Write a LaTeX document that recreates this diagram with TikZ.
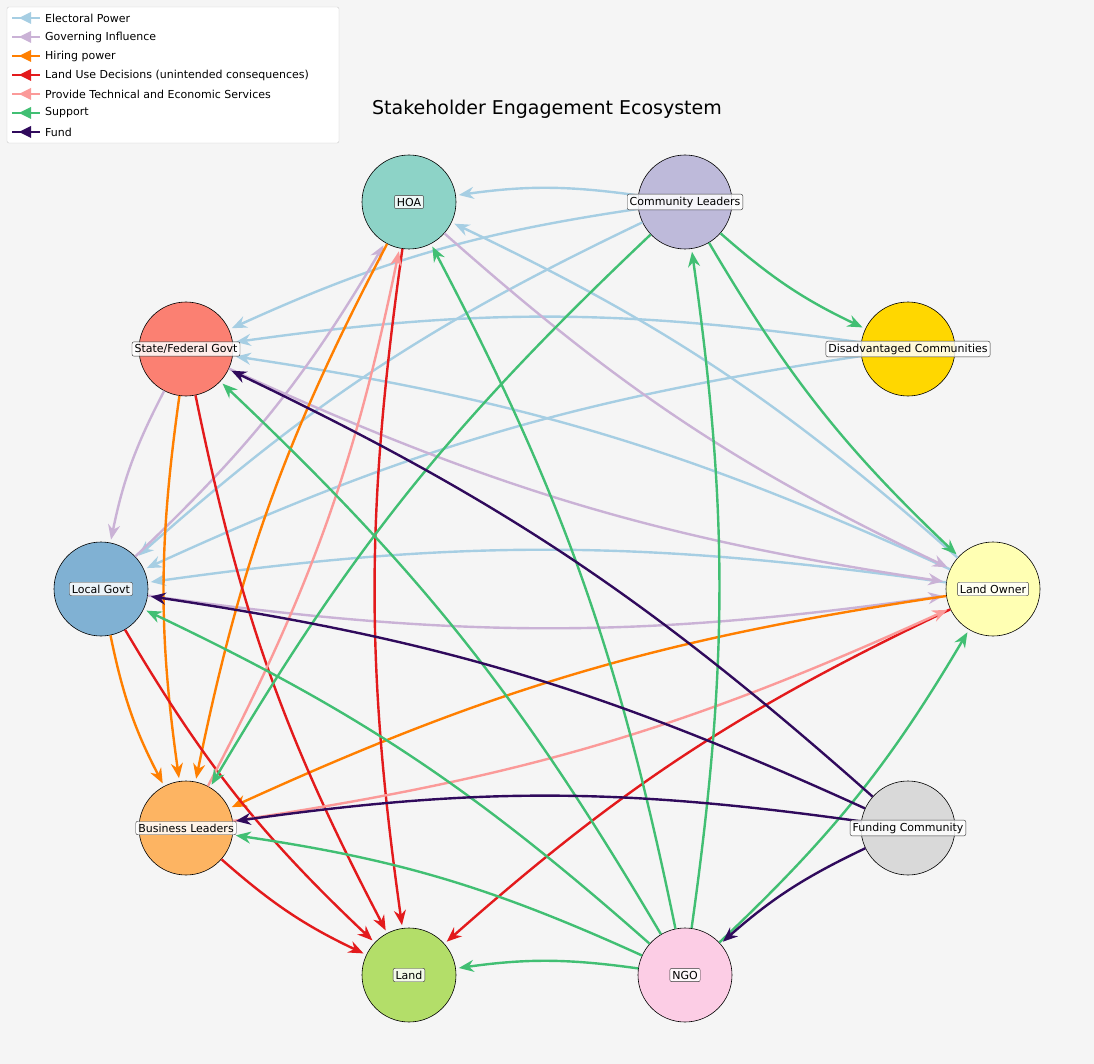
\documentclass[tikz,border=0pt]{standalone}
\usepackage{fontspec}
\setmainfont{DejaVu Sans}
\usetikzlibrary{arrows.meta}
\definecolor{bg}{HTML}{F5F5F5}
\definecolor{el}{HTML}{A6CEE3}
\definecolor{gv}{HTML}{CAB2D6}
\definecolor{hi}{HTML}{FF7F00}
\definecolor{lu}{HTML}{E31A1C}
\definecolor{te}{HTML}{FB9A99}
\definecolor{su}{HTML}{41BF73}
\definecolor{fu}{HTML}{300A5C}
\definecolor{c1}{HTML}{8DD3C7}
\definecolor{c2}{HTML}{BEBADA}
\definecolor{c3}{HTML}{FB8072}
\definecolor{c4}{HTML}{FFD700}
\definecolor{c5}{HTML}{80B1D3}
\definecolor{c6}{HTML}{FFFFB3}
\definecolor{c7}{HTML}{FDB462}
\definecolor{c8}{HTML}{D9D9D9}
\definecolor{c9}{HTML}{B3DE69}
\definecolor{c10}{HTML}{FCCDE5}
\tikzset{
 st/.style={circle,draw=black,line width=0.6pt,minimum size=94pt,inner sep=0pt},
 lb/.style={draw=black!80,fill=white,fill opacity=0.85,text opacity=1,rounded corners=2pt,inner sep=2.5pt,font=\fontsize{11}{13}\selectfont},
 e/.style={line width=2.4pt,bend right=8,-{Stealth[length=15pt,width=12pt]},shorten >=3pt},
 legline/.style={line width=2pt},
}
\begin{document}
\begin{tikzpicture}[x=1pt,y=-1pt]
\fill[bg] (0,0) rectangle (1094,1064);
\useasboundingbox (0,0) rectangle (1094,1064);
\node[st,fill=c1] (hoa) at (409,202) {};
\node[st,fill=c2] (cl) at (685,202) {};
\node[st,fill=c3] (sf) at (186,349) {};
\node[st,fill=c4] (dc) at (908,349) {};
\node[st,fill=c5] (lg) at (101,589) {};
\node[st,fill=c6] (lo) at (993,589) {};
\node[st,fill=c7] (bl) at (186,828) {};
\node[st,fill=c8] (fc) at (908,828) {};
\node[st,fill=c9] (la) at (409,975) {};
\node[st,fill=c10] (ngo) at (685,975) {};
% electoral
\foreach \a/\b in {cl/hoa,cl/sf,cl/lg,dc/sf,dc/lg,lo/sf,lo/hoa,lo/lg} \draw[e,el] (\a) to (\b);
% governing
\foreach \a/\b in {sf/lg,lg/hoa,hoa/lo,sf/lo,lg/lo} \draw[e,gv] (\a) to (\b);
% hiring
\foreach \a/\b in {hoa/bl,sf/bl,lg/bl,lo/bl} \draw[e,hi] (\a) to (\b);
% land use
\foreach \a/\b in {hoa/la,sf/la,lg/la,bl/la,lo/la} \draw[e,lu] (\a) to (\b);
% technical
\foreach \a/\b in {bl/hoa,bl/lo} \draw[e,te] (\a) to (\b);
% support
\foreach \a/\b in {cl/dc,cl/lo,cl/bl,ngo/hoa,ngo/cl,ngo/sf,ngo/lg,ngo/bl,ngo/la,ngo/lo} \draw[e,su] (\a) to (\b);
% fund
\foreach \a/\b in {fc/sf,fc/lg,fc/bl,fc/ngo} \draw[e,fu] (\a) to (\b);
% labels
\node[lb] at (hoa) {HOA};
\node[lb] at (cl) {Community Leaders};
\node[lb] at (sf) {State/Federal Govt};
\node[lb] at (dc) {Disadvantaged Communities};
\node[lb] at (lg) {Local Govt};
\node[lb] at (lo) {Land Owner};
\node[lb] at (bl) {Business Leaders};
\node[lb] at (fc) {Funding Community};
\node[lb] at (la) {Land};
\node[lb] at (ngo) {NGO};
\node[font=\fontsize{19}{22}\selectfont] (title) at (547,109) {Stakeholder Engagement Ecosystem};
% legend
\draw[black!20,fill=white,rounded corners=2pt] (7,7) rectangle (339,143);
\foreach \c/\t [count=\i from 0] in {el/Electoral Power,gv/Governing Influence,hi/Hiring power,lu/Land Use Decisions (unintended consequences),te/Provide Technical and Economic Services,su/Support/Promote/Educate,fu/Fund}{
 \draw[legline,\c] (12,18+19*\i) -- (40,18+19*\i);
 \fill[\c] (19,18+19*\i) -- (31,12+19*\i) -- (31,24+19*\i) -- cycle;
 \node[anchor=west,font=\fontsize{11}{13}\selectfont,inner sep=0pt] at (45,18+19*\i) {\t};
}
\end{tikzpicture}
\end{document}
